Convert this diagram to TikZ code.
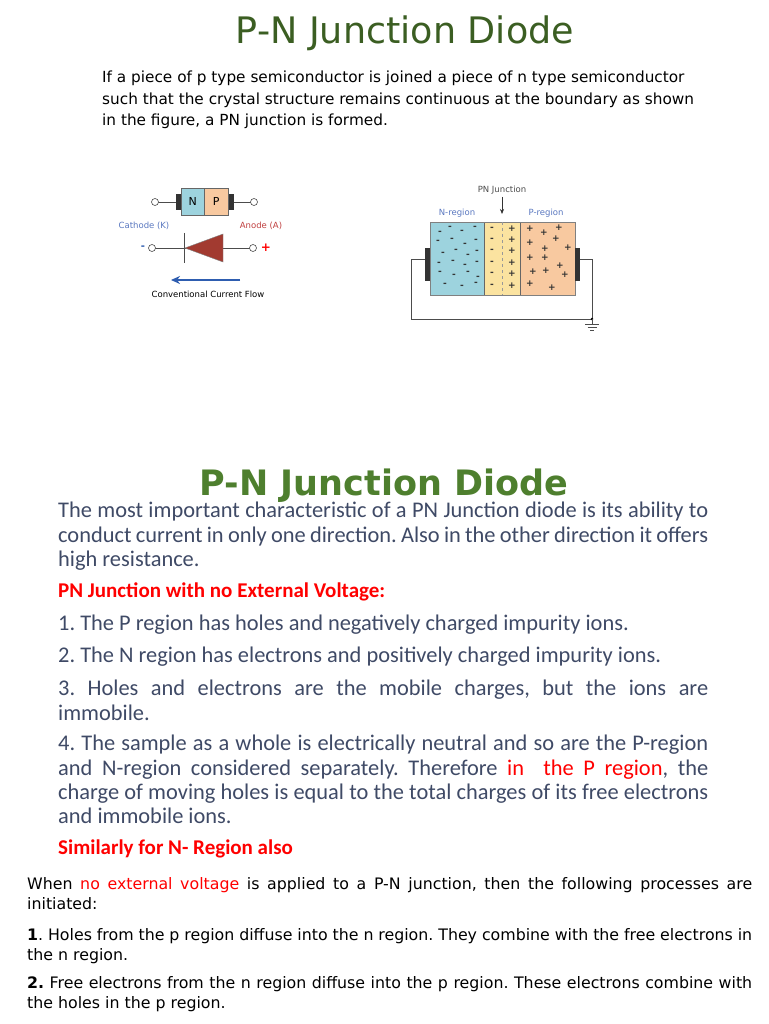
\documentclass[tikz,border=0pt]{standalone}
\usepackage{fontspec}
\setmainfont{DejaVu Sans}
\newfontfamily\carl{Carlito}
\usetikzlibrary{arrows.meta}
\definecolor{tgreen}{HTML}{3B5E22}
\definecolor{tgreen2}{HTML}{4E7F2E}
\definecolor{bodyblue}{HTML}{3F4A66}
\definecolor{nblue}{HTML}{9DD3DE}
\definecolor{ppink}{HTML}{F8C9A0}
\definecolor{dyel}{HTML}{FBE3A0}
\definecolor{dred}{HTML}{A23A30}
\definecolor{lblue}{HTML}{5A78C0}
\definecolor{lred}{HTML}{C04040}
\definecolor{arrblue}{HTML}{2E5DB0}
\tikzset{
 para/.style={anchor=north west,inner sep=0pt,align=justify},
 term/.style={circle,draw=black!70,fill=white,inner sep=0pt,minimum size=7pt,line width=0.6pt},
 endcap/.style={fill=black!80,draw=none},
 lab/.style={inner sep=0pt,font=\fontsize{8.5}{9}\selectfont},
 sign/.style={inner sep=0pt,font=\bfseries\fontsize{9}{9}\selectfont,text=black!80},
}
\hyphenpenalty=10000 \exhyphenpenalty=10000
\frenchspacing
\begin{document}
\begin{tikzpicture}[x=1pt,y=-1pt]
\useasboundingbox (0,0) rectangle (768,1024);
\fill[white] (0,0) rectangle (768,1024);
\node[inner sep=0pt,text=tgreen,font=\fontsize{36.5}{40}\selectfont] (t1) at (405,33) {P-N Junction Diode};
\node[para,align=left,font=\fontsize{15.3}{21.5}\selectfont] (p1) at (102,71) {If a piece of p type semiconductor is joined a piece of n type semiconductor\\ such that the crystal structure remains continuous at the boundary as shown\\ in the figure, a PN junction is formed.};
% diode symbol figure
\coordinate (lt) at (155,202); \coordinate (rt) at (254,202);
\draw[black!70,line width=0.8pt] (lt) -- (rt);
\node[term] (tl) at (lt) {}; \node[term] (tr) at (rt) {};
\fill[endcap] (176,194) rectangle (182,210);
\fill[endcap] (228,194) rectangle (234,210);
\node[draw=black!60,fill=nblue,minimum width=23pt,minimum height=27pt,inner sep=0pt,anchor=north west,font=\fontsize{11}{11}\selectfont] (nb) at (181,188) {N};
\node[draw=black!60,fill=ppink,minimum width=24pt,minimum height=27pt,inner sep=0pt,anchor=north west,font=\fontsize{11}{11}\selectfont] (pb) at (204,188) {P};
\node[lab,text=lblue] (cath) at (144,226) {Cathode (K)};
\node[lab,text=lred] (anod) at (261,226) {Anode (A)};
\draw[black!70,line width=0.8pt] (152,248) -- (253,248);
\node[term] (dl) at (152,248) {}; \node[term] (dr) at (253,248) {};
\draw[black!70,line width=0.8pt] (184,233) -- (184,263);
\fill[dred,draw=black!50] (185,248) -- (223,234) -- (223,262) -- cycle;
\node[inner sep=0pt,text=arrblue,font=\bfseries\fontsize{10}{10}\selectfont] (mn) at (143,248) {-};
\node[inner sep=0pt,text=red,font=\bfseries\fontsize{12}{12}\selectfont] (pl) at (266,248) {+};
\coordinate (a1) at (240,280); \coordinate (a2) at (171,280);
\draw[arrblue,line width=2.2pt,-{Stealth[length=9pt,width=8pt]}] (a1) -- (a2);
\node[lab] (ccf) at (208,294) {Conventional Current Flow};
% PN junction figure
\fill[nblue,draw=black!60] (430,222) rectangle (484,295);
\fill[dyel,draw=black!60] (484,222) rectangle (520,295);
\fill[ppink,draw=black!60] (520,222) rectangle (575,295);
\draw[black!50] (430,222) rectangle (575,295);
\draw[dashed,black!40] (502,222) -- (502,295);
\fill[endcap] (425,248) rectangle (430,281);
\fill[endcap] (575,248) rectangle (580,281);
\coordinate (w1) at (425,259); \coordinate (w2) at (411,259); \coordinate (w3) at (411,319);
\coordinate (g) at (592,319); \coordinate (w5) at (592,259); \coordinate (w6) at (580,259);
\draw[black!70,line width=0.6pt] (w1) -- (w2) -- (w3) -- (g) -- (w5) -- (w6);
\fill (g) circle (1.3pt);
\draw[black!70,line width=0.6pt] (g) -- (592,324) (585,324) -- (599,324) (587.5,327) -- (596.5,327) (590,330) -- (594,330);
\node[lab,text=black!70] (pnj) at (502,190) {PN Junction};
\draw[black!80,line width=0.6pt,-{Stealth[length=5pt,width=4pt]}] (502,197) -- (502,214);
\node[lab,text=lblue] (nreg) at (457,213) {N-region};
\node[lab,text=lblue] (preg) at (546,213) {P-region};
\foreach \x/\y in {440/233, 450/228, 462/232, 475/228, 438/242, 452/240, 465/245, 476/241, 443/254, 456/251, 468/256, 477/252, 439/264, 453/262, 465/266, 477/263, 440/273, 454/276, 468/273, 478/278, 445/285, 462/287, 476/284}
  \node[sign] at (\x,\y) {-};
\foreach \y in {229,240,251,263,274,286} { \node[sign] at (492,\y) {-}; \node[sign] at (512,\y) {+}; }
\foreach \x/\y in {530/229, 544/233, 559/228, 530/243, 545/249, 556/239, 568/248, 530/258, 545/258, 560/266, 533/272, 546/271, 565/275, 530/284, 552/288}
  \node[sign] at (\x,\y) {+};
% second part
\node[inner sep=0pt,text=tgreen2,font=\bfseries\fontsize{35}{38}\selectfont] (t2) at (384,486) {P-N Junction Diode};
\begin{scope}[every node/.append style={para,text width=650pt,font=\carl\fontsize{22.4}{24.3}\selectfont,text=bodyblue}]
\node (m1) at (58,502) {The most important characteristic of a PN Junction diode is its ability to conduct current in only one direction. Also in the other direction it offers high resistance.};
\node[text=red,font=\carl\bfseries\fontsize{21}{24}\selectfont] (m2) at (58,583) {PN Junction with no External Voltage:};
\node (m3) at (58,615) {1. The P region has holes and negatively charged impurity ions.};
\node (m4) at (58,647) {2. The N region has electrons and positively charged impurity ions.};
\node (m5) at (58,680) {3. Holes and electrons are the mobile charges, but the ions are\linebreak immobile.};
\node (m6) at (58,735) {4. The sample as a whole is electrically neutral and so are the P-region and N-region considered separately. Therefore \textcolor{red}{in\ \ the P region}, the charge of moving holes is equal to the total charges of its free electrons and immobile ions.};
\node[text=red,font=\carl\bfseries\fontsize{21}{24}\selectfont] (m7) at (58,840) {Similarly for N- Region also};
\end{scope}
\begin{scope}[every node/.append style={para,text width=725pt,font=\fontsize{15.8}{20.5}\selectfont,text=black}]
\node (b1) at (27,877) {When \textcolor{red}{no external voltage} is applied to a P-N junction, then the following processes are\linebreak initiated:};
\node (b2) at (27,928) {\textbf{1}. Holes from the p region diffuse into the n region. They combine with the free electrons in\linebreak the n region.};
\node (b3) at (27,976) {\textbf{2.} Free electrons from the n region diffuse into the p region. These electrons combine with\linebreak the holes in the p region.};
\end{scope}
\end{tikzpicture}
\end{document}
